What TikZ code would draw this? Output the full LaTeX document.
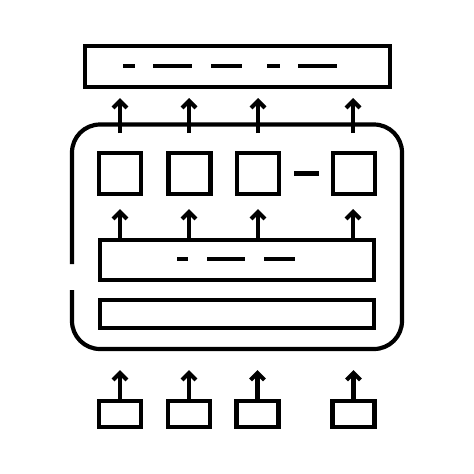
\documentclass[tikz,border=0pt]{standalone}
\usetikzlibrary{arrows.meta}
\begin{document}
\begin{tikzpicture}[x=1pt,y=-1pt,line width=4.2pt,
  box/.style={draw=black,rectangle,inner sep=0pt,outer sep=0pt,line width=4.2pt},
  up/.style={-{Straight Barb[length=7pt,width=14pt,line cap=butt,line join=miter]}},
  dsh/.style={line width=4.2pt}]
\useasboundingbox (0,0) rectangle (474,474);
% top bar
\node[box,minimum width=305pt,minimum height=41pt] (top) at (237.5,66.5) {};
\draw[dsh] (123,66) -- (135,66) (153,66) -- (192,66) (211,66) -- (242,66) (267,66) -- (280,66) (298,66) -- (337,66);
% rounded frame
\draw[rounded corners=28pt] (72,264) -- (72,124.5) -- (402,124.5) -- (402,349) -- (72,349) -- (72,290);
% squares
\node[box,minimum width=42pt,minimum height=41pt] (s1) at (120,173.5) {};
\node[box,minimum width=42pt,minimum height=41pt] (s2) at (189.5,173.5) {};
\node[box,minimum width=42pt,minimum height=41pt] (s3) at (258,173.5) {};
\node[box,minimum width=42pt,minimum height=41pt] (s4) at (354,173.5) {};
\draw (s3.east) ++(15,0) coordinate (d1) -- ++(25,0) coordinate (d2);
% middle bar
\node[box,minimum width=274pt,minimum height=40pt] (mid) at (237,260) {};
\draw[dsh] (177,259) -- (188,259) (207,259) -- (245,259) (264,259) -- (295,259);
% bottom bar
\node[box,minimum width=274pt,minimum height=28pt] (bot) at (237,314) {};
% bottom boxes
\node[box,minimum width=42pt,minimum height=26pt] (b1) at (120,414) {};
\node[box,minimum width=42pt,minimum height=26pt] (b2) at (189,414) {};
\node[box,minimum width=42pt,minimum height=26pt] (b3) at (257.5,414) {};
\node[box,minimum width=42pt,minimum height=26pt] (b4) at (353.5,414) {};
% arrows top
\foreach \x/\n in {120/1,189/2,258/3,353/4}{
  \coordinate (ta\n) at (\x,98);
  \coordinate (tb\n) at (\x,133);
  \draw[up] (tb\n) -- (ta\n);
  \coordinate (ma\n) at (\x,209);
  \draw[up] (mid.north -| ma\n) -- (ma\n);
}
\foreach \x/\n in {120/1,189/2,257.5/3,353.5/4}{
  \coordinate (ba\n) at (\x,370);
  \draw[up] (b\n.north) -- (ba\n);
}
\end{tikzpicture}
\end{document}
